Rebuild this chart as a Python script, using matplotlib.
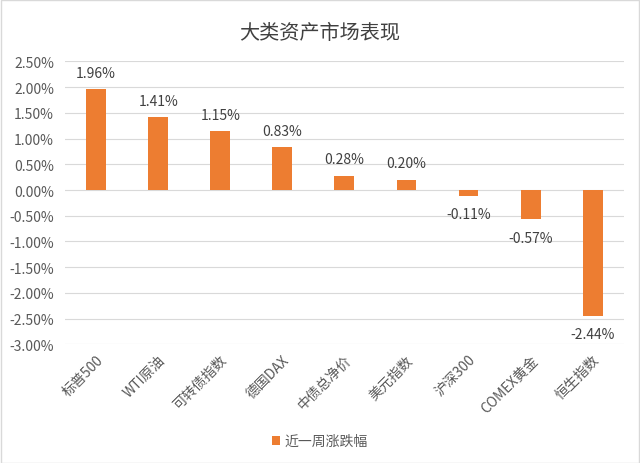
import matplotlib
import matplotlib.pyplot as plt
import numpy as np
from matplotlib.ticker import FuncFormatter, MultipleLocator

## Fonts: CJK first, DejaVu as fallback
plt.rcParams['font.family'] = ['Noto Sans CJK SC', 'DejaVu Sans']
plt.rcParams['axes.unicode_minus'] = False

## Data
categories = ['标普500', 'WTI原油', '可转债指数', '德国DAX', '中债总净价',
              '美元指数', '沪深300', 'COMEX黄金', '恒生指数']
weekly_change = [1.96, 1.41, 1.15, 0.83, 0.28, 0.20, -0.11, -0.57, -2.44]
series_name = '近一周涨跌幅'
title = '大类资产市场表现'

bar_color = '#ED7D31'
text_color = '#595959'

fig = plt.figure(figsize=(6.4, 4.64), dpi=100)
ax = fig.add_axes([0.1016, 0.2556, 0.873, 0.610])

x = np.arange(len(categories))
bars = ax.bar(x, weekly_change, width=0.32, color=bar_color, label=series_name, zorder=3)

# value labels
for xi, v in zip(x, weekly_change):
    off = 0.18 if v >= 0 else -0.22
    ax.text(xi, v + off, f'{v:.2f}%', ha='center', va='bottom' if v >= 0 else 'top',
            fontsize=10, color='#404040')

ax.set_ylim(-3.0, 2.5)
ax.set_xlim(-0.5, len(categories) - 0.5)
ax.yaxis.set_major_locator(MultipleLocator(0.5))
ax.yaxis.set_major_formatter(FuncFormatter(lambda v, p: f'{v:.2f}%'))
ax.grid(axis='y', color='#D9D9D9', linewidth=0.8, zorder=0)

for s in ax.spines.values():
    s.set_visible(False)
ax.tick_params(axis='both', length=0, labelsize=10, colors=text_color)
ax.tick_params(axis='y', pad=8)
ax.tick_params(axis='x', pad=6)
ax.set_xticks(x)
ax.set_xticklabels(categories, rotation=45, ha='right', rotation_mode='anchor')

fig.suptitle(title, y=0.95, fontsize=14.5, color='#404040')

fig.legend(loc='lower center', bbox_to_anchor=(0.5, 0.005), frameon=False,
           fontsize=10, handlelength=0.6, handleheight=0.6, handletextpad=0.3,
           labelcolor=text_color)

# thin border around the chart
fig.patches.append(matplotlib.patches.Rectangle((0.001, 0.001), 0.997, 0.997,
                   transform=fig.transFigure, fill=False, edgecolor='#D9D9D9', linewidth=1))

fig.savefig('out.png', dpi=100)
